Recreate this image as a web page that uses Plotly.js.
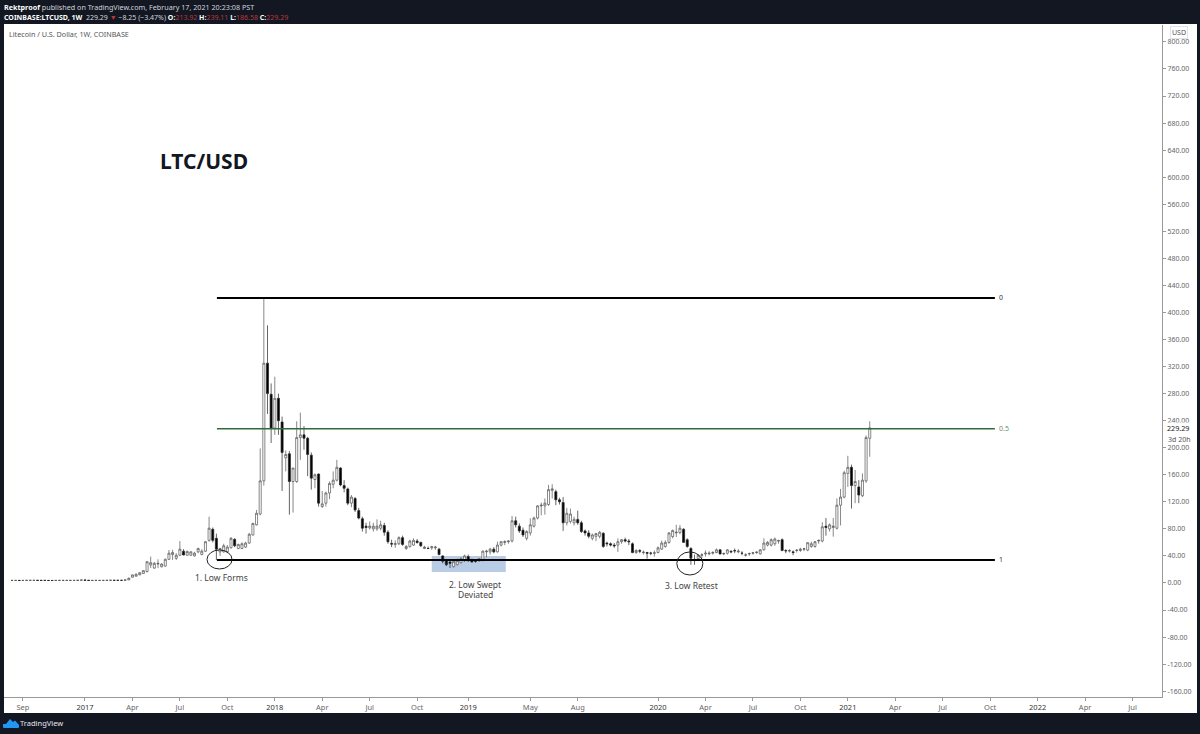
<!DOCTYPE html>
<html>
<head>
<meta charset="utf-8">
<script src="https://cdn.plot.ly/plotly-3.0.1.min.js"></script>
<style>
  html, body { margin:0; padding:0; background:#131722; width:1200px; height:734px; overflow:hidden; }
  #panel { position:absolute; left:4px; top:24px; width:1193px; height:689px; background:#fff; }
  #chart { position:absolute; left:0; top:0; width:1200px; height:734px; }
  #logo { position:absolute; left:3px; top:718px; }
</style>
</head>
<body>
<div id="panel"></div>
<div id="chart"></div>
<svg id="logo" width="16" height="11" viewBox="0 0 16 11"><path d="M0 9 L0 6 L3 6 L7 1 L10 4 L12 2.5 L16 7 L16 9 Q16 10 15 10 L1 10 Q0 10 0 9 Z" fill="#2196f3"/></svg>
<script>
// weekly candles. first bar is the week of 2016-08-15
const firstWeek = "2016-08-15";

const opens = [
  3.8,3.8,3.8,3.7,3.8,3.9,3.9,3.9,3.8,3.8,
  3.8,3.7,3.7,3.8,3.8,3.8,3.8,3.8,3.8,4.0,
  4.4,4.1,3.7,3.8,3.8,3.8,3.8,3.9,4.0,3.9,
  3.9,3.9,4.5,8.4,10,12,14,16.9,26.6,22,
  28,24,25,35,42,36.5,41,47,41,41,
  40,46,42,47,63,79.4,66,46,46,46,
  52,64.6,51,51,53,59,71,86,102,151,
  325,279,229,273,238,185,191,150,150,215,
  219,214,189,153,161,113,118,133,146,152,
  170,144,139,118,125,107,95,84,81.5,80,
  80,81,85,75,58.5,57,58,67,51,54,
  56,62,60,51,51,52,52,50,40,33,
  31,24,27,30,33,39,34,33,33,33,
  46,46,50,46,56,60,61,62,92,84,
  78,66,74,84,96,114,114,116,137,135,
  123,119,89,91,89,94,89,77,74,66,
  69,69,73.5,59,58,56,56,61,64,62,
  58,45,48,45,45,44,44,45,50,54,
  60,68.5,74,74.5,79.4,64,51,35,36,41,
  43,43,44,45,49,43,44,47,48,46,
  44,41,43,44,45,43,49,56,56,58,
  62,64,48,47,46,48,48,50,48.6,54,
  54,62,62,84,80,82,81,115,127,162,
  171,144,142,129,151,213.92
];
const highs = [
  3.9,4.0,3.9,3.9,3.9,4.0,4.0,3.9,3.9,4.0,
  3.9,3.8,3.8,3.9,3.9,3.9,3.9,4.0,4.1,4.6,
  4.6,4.1,3.9,3.9,3.9,4.0,3.9,4.3,4.1,4.0,
  4.1,4.8,8,12.5,14,16,19,32,39,31,
  35,29,36,48.8,49,44,62,50,48,47,
  46,52,50,62,98,82,73,52,58,56,
  68,66,58,60,61,74,89,108,199,421,
  381,295,305,280,246,196,195,170,239,252,
  232,216,193,162,162,136,135,150,165,182,
  171,152,141,130,127,111,98,89,91,89,
  94,92,89,78,64,63,69,70,56,64,
  66,65,61,55,54,55,55,52,41,35,
  33,33,36,38,42,42,36,34,37,48,
  49,52,53,61,62,63,63,99,98,88,
  82,78,95.6,98,115,119,125,145,146,138,
  126,127,111,110,98,107,92,79,78,73,
  74,77,75,61,60,59,66,65,67,65,
  60,50,50,48,46,46,48,54,62.7,63,
  75,79,86,85.8,81,66,53,42,42,44,
  48,47,47,51,50,45,50,48,51,50,
  47,44,45,46,47,50,66,62,66,67,
  64,66,50,50,48,50,52,52,60,61,
  62,64,90,96,88,96,125,139,166,188,
  175,167,152,162,218,239.11
];
const lows = [
  3.7,3.7,3.7,3.7,3.8,3.8,3.8,3.7,3.7,3.7,
  3.7,3.6,3.6,3.7,3.7,3.7,3.7,3.7,3.7,3.9,
  3.8,3.6,3.7,3.7,3.7,3.7,3.8,3.8,3.7,3.7,
  3.7,3.8,4.4,8,9.5,11.5,13.5,15.5,22,21,
  22,23,24,34,34,34,40,41,40,40,
  39,44,41,46,61,60,34,40,45,44,
  51,53,50,50,52,58,70,85,100,144,
  250,207,219,219,136,165,101,104,148,182,
  197,158,138,140,113,111,113,124,140,150,
  143,134,115,112,105,94,76,73,79,76,
  77,78,70,58,53,52,56,55,49,52,
  55,58,53,50,50,49,49,41,29,25,
  22,23,26,29,31,31,30,30,31,32,
  38,42,44,45,54,56,58,60,82,74,
  68,63,70,82,94,100,101,114,125,115,
  116,77,85,88,85,86,74,70,66,63,
  62,66,52,54,54,52,46,58,60,56,
  44,43,44,42,36,41,39,44,49,52,
  58,66,68,72,60,52,27,27,34,37,
  39,41,42,44,42,41,42,44,44,44,
  41,39,40,42,43,42,48,54,54,55,
  58,47,44,45,41,45,46,47,47,52,
  52,58,60,70,76,68.5,79,85,125,142,
  110,118,118,127,148,186.58
];
const closes = [
  3.8,3.8,3.7,3.8,3.9,3.9,3.9,3.8,3.8,3.8,
  3.7,3.7,3.8,3.8,3.8,3.8,3.8,3.8,4.0,4.4,
  4.1,3.7,3.8,3.8,3.8,3.8,3.9,4.0,3.9,3.9,
  3.9,4.5,7,11.9,13,15.2,18.2,31.5,30,29,
  29,28,35,44,45,41,50,41.4,46.4,46,
  44,51,47,61,81,63,50,51,55,53,
  66,55,57,58,59,72,88,103,151,325,
  280,229,273,240,193,190,150,170,215,219,
  214,190,155,160,118,117,133,147,152,171,
  145,140,118,127,108,96,81,82,84,84,
  84,86,75,61,57.5,58,67,57,54,62,
  63,60,55,53,51,53.5,53,42,32,27,
  29,32,33,36,40,33,31,32,36,47,
  47,50,46,56,61,61,62,92,86,77,
  71,76,86,96,114,115,118,138,139,123,
  120,89,103,102,94,89,76,74,69,71,
  73,75,54,58,56,55,61,64,62,61,
  45,48,47,45.5,44,44,44.5,52,59,60,
  74,77.5,75,81,60,54,36.5,34,41,41.5,
  44,44,45,49,43,43.5,49,46,47.5,47,
  44,41.5,43.5,44.5,45.5,49,59,60,64,65,
  62.5,48,47.5,48,45,48.5,50,50.5,59.6,58,
  61,63,83,82,86,84,115,127,163,171,
  144,150,130,152,215,229.29
];

// fib levels drawn on the chart
const fibLevels = [421.5, 228, 34];
const fibLabels = ["0", "0.5", "1"];
const fibColors = ["#000000", "#2e6b3e", "#000000"];
const fibWidths = [2, 1.4, 2];
const fibStart = "2017-09-12";
const fibEnd = "2021-10-13";

const sweptBox = { x0:"2018-10-29", x1:"2019-03-20", y0:16.3, y1:40 };
const circleOne = { x0:"2017-08-24", x1:"2017-10-11", y0:20.7, y1:48.8 };
const circleTwo = { x0:"2020-02-11", x1:"2020-04-01", y0:11.8, y1:45.9 };

const yTicks = [800,760,720,680,640,600,560,520,480,440,400,360,320,280,240,200,160,120,80,40,0,-40,-80,-120,-160];
const xTickDates = ["2016-09-05","2017-01-02","2017-04-03","2017-07-03","2017-10-02","2018-01-01","2018-04-02","2018-07-02","2018-10-01","2019-01-07","2019-05-06","2019-08-05","2020-01-06","2020-04-06","2020-07-06","2020-10-05","2021-01-04","2021-04-05","2021-07-05","2021-10-04","2022-01-03","2022-04-04","2022-07-04"];
const xTickLabels = ["Sep","2017","Apr","Jul","Oct","2018","Apr","Jul","Oct","2019","May","Aug","2020","Apr","Jul","Oct","2021","Apr","Jul","Oct","2022","Apr","Jul"];

const weeks = opens.map((_, i) => {
  const d = new Date(firstWeek + "T00:00:00Z");
  d.setUTCDate(d.getUTCDate() + i * 7);
  return d.toISOString().slice(0, 10);
});

// plot box in page pixels, used to place the text
const L = 4, T = 25, R = 1162, B = 697;
const px = x => (x - L) / (R - L);
const py = y => (B - y) / (B - T);
const FONT = "Noto Sans, sans-serif";

function note(x, y, text, opts) {
  return Object.assign({
    xref:"paper", yref:"paper", x:px(x), y:py(y), text:text, showarrow:false,
    xanchor:"left", yanchor:"middle", borderpad:0,
    font:{ family:FONT, size:8, color:"#333" }
  }, opts || {});
}

const red = "#b8383c";
const head1 = '<b style="color:#fff">Rektproof</b> published on TradingView.com, February 17, 2021 20:23:08 PST';
const head2 = '<b style="color:#fff">COINBASE:LTCUSD, 1W</b>  229.29 <span style="color:' + red + '">▼</span> −8.25 (−3.47%) ' +
  '<b style="color:#fff">O:</b><span style="color:' + red + '">213.92</span> <b style="color:#fff">H:</b><span style="color:' + red + '">239.11</span> ' +
  '<b style="color:#fff">L:</b><span style="color:' + red + '">186.58</span> <b style="color:#fff">C:</b><span style="color:' + red + '">229.29</span>';

const annotations = [
  note(3, 7, head1, { font:{ family:FONT, size:7.2, color:"#d1d4dc" } }),
  note(3, 17, head2, { font:{ family:FONT, size:7, color:"#d1d4dc" } }),
  note(8, 34, "Litecoin / U.S. Dollar, 1W, COINBASE", { font:{ family:FONT, size:7.2, color:"#555" } }),
  note(159, 161, "<b>LTC/USD</b>", { font:{ family:FONT, size:21, color:"#131722" } }),
  note(221, 577, "1. Low Forms", { xanchor:"center", font:{ family:FONT, size:8.5, color:"#444" } }),
  note(475, 584, "2. Low Swept", { xanchor:"center", font:{ family:FONT, size:8.5, color:"#444" } }),
  note(475, 594, "Deviated", { xanchor:"center", font:{ family:FONT, size:8.5, color:"#444" } }),
  note(691, 585, "3. Low Retest", { xanchor:"center", font:{ family:FONT, size:8.5, color:"#444" } }),
  note(1166, 428, "229.29", { bgcolor:"#fff", font:{ family:FONT, size:7.2, color:"#222" } }),
  note(1167, 439, "3d 20h", { bgcolor:"#fff", font:{ family:FONT, size:7, color:"#555" } }),
  note(1179, 33, "USD", { xanchor:"center", bgcolor:"#fff", bordercolor:"#e0e3eb", borderwidth:1, borderpad:1, font:{ family:FONT, size:7, color:"#555" } }),
  note(19, 723, "TradingView", { font:{ family:FONT, size:7.5, color:"#e6e8ee" } })
];

fibLevels.forEach((lvl, i) => {
  annotations.push({
    xref:"x", yref:"y", x:fibEnd, y:lvl, text:fibLabels[i], showarrow:false,
    xanchor:"left", yanchor:"middle", xshift:2,
    font:{ family:FONT, size:7, color: i === 1 ? "#6b8f73" : "#333" }
  });
});

const shapes = [
  { type:"rect", xref:"x", yref:"y", x0:sweptBox.x0, x1:sweptBox.x1, y0:sweptBox.y0, y1:sweptBox.y1,
    fillcolor:"#b9cce6", line:{ width:0 }, layer:"below" },
  { type:"circle", xref:"x", yref:"y", x0:circleOne.x0, x1:circleOne.x1, y0:circleOne.y0, y1:circleOne.y1,
    line:{ color:"#222", width:1 } },
  { type:"circle", xref:"x", yref:"y", x0:circleTwo.x0, x1:circleTwo.x1, y0:circleTwo.y0, y1:circleTwo.y1,
    line:{ color:"#222", width:1 } }
];

const traces = [{
  type:"candlestick", x:weeks, open:opens, high:highs, low:lows, close:closes,
  increasing:{ line:{ color:"#555", width:0.7 }, fillcolor:"#ffffff" },
  decreasing:{ line:{ color:"#222", width:0.7 }, fillcolor:"#000000" },
  whiskerwidth:0, hoverinfo:"skip", showlegend:false
}];

fibLevels.forEach((lvl, i) => {
  traces.push({
    type:"scatter", mode:"lines", x:[fibStart, fibEnd], y:[lvl, lvl],
    line:{ color:fibColors[i], width:fibWidths[i] }, hoverinfo:"skip", showlegend:false
  });
});

const layout = {
  width:1200, height:734,
  margin:{ l:L, r:1200 - R, t:T, b:734 - B, pad:0 },
  paper_bgcolor:"rgba(0,0,0,0)", plot_bgcolor:"rgba(0,0,0,0)",
  showlegend:false, boxgap:0.2,
  xaxis:{
    type:"date", range:["2016-07-30 16:00", "2022-08-29 12:00"],
    tickmode:"array", tickvals:xTickDates,
    ticktext:xTickLabels.map(t => /^\d/.test(t) ? '<span style="color:#333">' + t + '</span>' : t),
    ticks:"outside", ticklen:3, tickcolor:"#999", tickwidth:1,
    showgrid:false, zeroline:false, showline:true, linecolor:"#999", linewidth:1,
    tickfont:{ family:FONT, size:7.5, color:"#666" }, rangeslider:{ visible:false }
  },
  yaxis:{
    side:"right", range:[-168.6, 825], tickmode:"array", tickvals:yTicks,
    ticktext:yTicks.map(v => v.toFixed(2)),
    ticks:"outside", ticklen:3, tickcolor:"#999", tickwidth:1,
    showgrid:false, zeroline:false, showline:true, linecolor:"#999", linewidth:1,
    tickfont:{ family:FONT, size:7, color:"#666" }
  },
  shapes:shapes, annotations:annotations, hovermode:false
};

Plotly.newPlot("chart", traces, layout, { displayModeBar:false, staticPlot:true });
</script>
</body>
</html>
